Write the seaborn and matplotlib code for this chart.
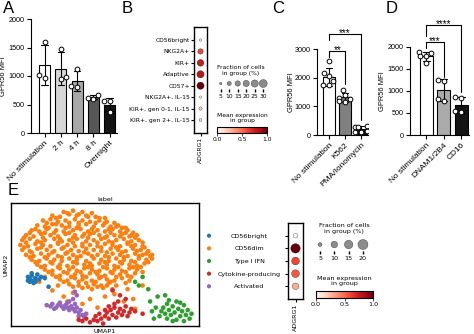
import numpy as np
import pandas as pd
import matplotlib
matplotlib.use('Agg')
import matplotlib.pyplot as plt
import seaborn as sns
from matplotlib.colors import Normalize
from matplotlib.cm import ScalarMappable

# ---------------- data ----------------
a_conditions = ['No stimulation', '2 h', '4 h', '8 h', 'Overnight']
a_values = [[1600, 970, 1020], [1470, 940, 980], [1120, 800, 830], [660, 620, 590], [560, 560, 370]]
a_colors = ['#ffffff', '#d6d6d6', '#a8a8a8', '#575757', '#141414']

c_conditions = ['No stimulation', 'K562', 'PMA/Ionomycin']
c_values = [[2600, 2150, 2050, 1900, 1750, 1750], [1580, 1400, 1300, 1250, 1180, 1150], [300, 290, 280, 150, 120, 100]]
c_colors = ['#ffffff', '#808080', '#141414']
c_brackets = [(0, 1, '**', 2920, 2720, 1780), (0, 2, '***', 3510, 3330, 520)]

d_conditions = ['No stimulation', 'DNAM1/2B4', 'CD16']
d_values = [[1870, 1850, 1800, 1780, 1620], [1250, 1230, 820, 780], [850, 830, 540, 510]]
d_colors = ['#ffffff', '#ababab', '#141414']
d_brackets = [(0, 1, '***', 2113, 1970, 1307), (0, 2, '****', 2490, 2242, 974)]

gene = 'ADGRG1'
b_groups = ['CD56bright', 'NKG2A+', 'KIR+', 'Adaptive', 'CD57+', 'NKG2A+, IL-15',
            'KIR+, gen 0-1, IL-15', 'KIR+, gen 2+, IL-15']
b_fraction = [4, 15, 22, 25, 25, 3.5, 7, 6]
b_expression = [0.1, 0.6, 0.75, 0.8, 1.0, 0.05, 0.2, 0.15]
b_legend_sizes = [5, 10, 15, 20, 25, 30]

e_groups = ['CD56bright', 'CD56dim', 'Type I IFN', 'Cytokine-producing', 'Activated']
e_fraction = [6, 18, 13, 13, 10]
e_expression = [0.0, 1.0, 0.6, 0.55, 0.3]
e_legend_sizes = [5, 10, 15, 20]
e_colors = ['#1f77b4', '#ff7f0e', '#2ca02c', '#d62728', '#9467bd']

umap_cd56dim = """28,93 33,94 38,93 43,92
22,90 26,89 31,91 35,90 40,90 45,89 50,88
17,86 21,87 25,85 29,86 34,87 38,86 42,85 47,86 51,85 55,84
14,82 18,81 22,83 27,82 31,81 36,82 40,83 44,81 49,82 53,81 57,82 61,80
11,78 15,77 19,79 24,78 28,77 33,78 37,79 41,77 46,78 50,77 54,79 58,77 62,78 65,76
8,74 12,73 16,75 21,74 25,73 29,75 34,74 38,73 42,75 47,74 51,73 55,74 59,75 63,73 67,74
6,70 10,71 14,69 18,70 23,71 27,69 31,70 35,71 40,69 44,70 48,71 52,69 56,70 60,71 64,69 68,70
5,66 9,65 13,67 17,66 21,65 25,67 30,66 34,65 38,67 42,66 46,65 50,67 54,66 58,65 62,67 66,66 70,65
6,62 10,61 14,63 19,62 23,61 27,63 32,62 36,61 40,63 44,62 48,61 53,63 57,62 61,61 65,63 69,62 73,61
8,58 12,57 16,59 20,58 25,57 29,59 33,58 37,57 41,59 46,58 50,57 54,59 58,58 62,57 66,59 70,58 74,57
11,54 15,53 19,55 23,54 27,53 31,55 35,54 40,53 44,55 48,54 52,53 56,55 60,54 64,53 68,55 72,54 75,55
14,50 18,49 22,51 26,50 30,49 35,51 39,50 43,49 47,51 51,50 55,49 59,51 63,50 67,49 71,51
18,46 22,45 26,47 31,46 35,45 39,47 43,46 47,45 51,47 55,46 59,45 63,47 67,46 70,44
22,42 26,41 30,43 34,42 38,41 42,43 46,42 50,41 54,43 58,42 62,41 66,43
26,38 30,37 34,39 38,38 43,37 47,39 51,38 55,37 59,39 63,37
31,34 36,33 40,35 44,34 48,33 52,35 56,33
38,31 43,30 49,31 54,30
22,29 28,24 33,27 42,22 50,24 55,26 60,20 65,22 38,18 46,15 62,30 70,33 30,20 25,33 18,40 15,36 66,14
30,92 36,91 41,89 47,88 24,88 19,84 24,83 31,84 36,84 45,84 50,84 56,81 13,79 20,80 29,80 35,80 43,79 52,79 59,80
10,76 18,76 23,76 31,76 39,75 44,76 53,76 61,76 64,74 7,72 17,72 26,71 33,72 41,72 50,72 58,73 66,72 70,68
8,68 16,68 25,68 33,68 46,68 54,68 62,68 7,64 16,64 28,64 38,65 48,64 56,64 64,65 71,64 11,60 22,60 30,60 39,60
51,60 59,60 67,61 72,59 10,56 18,56 27,56 35,56 43,57 52,56 60,56 68,57 75,58 13,52 21,52 33,52 42,51 50,52 58,52
66,52 73,52 16,48 25,48 33,48 41,48 49,48 57,48 65,48 69,48 20,44 28,44 37,44 45,44 53,44 61,44 24,40 32,40 40,40
48,40 56,40 64,40 28,36 36,36 45,36 53,36 61,35 33,32 41,32 46,32 51,33"""
umap_cd56bright = "9,40 10,38 11,41 12,37 13,39 14,42 12,35 10,36 15,38 16,40 11,43 13,36 9,37 20,32 18,39"
umap_activated = ("19,17 21,16 22,18 24,15 25,17 27,16 28,14 29,17 30,15 31,13 32,16 33,14 34,12 35,15 "
                  "36,11 37,13 38,9 36,8 34,18 33,22 35,25 34,28 30,19 26,19 39,7 40,10 23,14 31,20")
umap_cytokine = ("36,5 38,4 40,6 42,3 44,5 46,4 48,6 50,8 51,11 52,6 53,13 54,9 55,15 56,7 57,11 58,14 "
                 "59,9 60,12 61,16 62,8 63,11 55,18 57,20 52,16 50,13 64,14 45,8 58,25 54,29 66,12 61,22 "
                 "49,2 47,10 70,10")
umap_ifn = ("79,8 80,12 81,15 82,10 83,6 83,18 84,13 85,9 86,16 87,11 88,5 88,20 89,14 90,8 91,12 92,17 "
            "93,9 94,13 95,6 86,4 84,21 90,19 75,12 76,6 77,15 74,20 78,24 66,36 70,40 68,33 73,30 92,4 "
            "96,10 82,25")

# ---------------- setup ----------------
sns.set_style('ticks', {'axes.edgecolor': 'black', 'xtick.color': 'black', 'ytick.color': 'black',
                        'text.color': 'black', 'axes.labelcolor': 'black'})
plt.rcParams['font.family'] = ['Liberation Sans', 'DejaVu Sans']
W, H = 474, 334
fig = plt.figure(figsize=(W / 100, H / 100), dpi=100)


def rect(x0, y0, x1, y1):
    return [x0 / W, 1 - y1 / H, (x1 - x0) / W, (y1 - y0) / H]


def ftext(x, y, s, **kw):
    fig.text(x / W, 1 - y / H, s, **kw)


PRISM = ['Liberation Sans', 'DejaVu Sans']
SC = ['DejaVu Sans']


def bar_panel(ax, conds, vals, colors, width, ylim, top, yticks, xlim, ylab_x, brackets=()):
    df = pd.DataFrame([(c, v) for c, vs in zip(conds, vals) for v in vs], columns=['cond', 'val'])
    sns.barplot(data=df, x='cond', y='val', hue='cond', order=conds, hue_order=conds, palette=colors,
                errorbar='sd', capsize=0.4, width=width, edgecolor='black', linewidth=0.8,
                err_kws={'color': 'black', 'linewidth': 0.8}, legend=False, ax=ax)
    sns.swarmplot(data=df, x='cond', y='val', order=conds, color='white', edgecolor='black',
                  linewidth=0.7, size=3.4, ax=ax, zorder=5)
    ax.set_ylim(*ylim)
    ax.set_xlim(*xlim)
    ax.spines[['top', 'right']].set_visible(False)
    ax.spines['left'].set_bounds(0, top)
    ax.spines['left'].set_linewidth(0.8)
    ax.spines['bottom'].set_linewidth(0.8)
    ax.set_yticks(yticks)
    ax.set_yticklabels([str(t) for t in yticks], fontsize=5.2, fontfamily=PRISM)
    ax.set_xticks(range(len(conds)))
    ax.set_xticklabels(conds, rotation=45, ha='right', rotation_mode='anchor', fontsize=6, fontfamily=PRISM)
    ax.tick_params(length=3, width=0.8, pad=1.5)
    ax.set_xlabel('')
    ax.set_ylabel('GPR56 MFI', fontsize=5.4, fontfamily=PRISM)
    pos = ax.get_position()
    ax.yaxis.set_label_coords((ylab_x / W - pos.x0) / pos.width, (top / ylim[1]) / 2)
    for i, j, lab, y, lb, rb in brackets:
        ax.plot([i, i, j, j], [lb, y, y, rb], color='black', lw=0.8, clip_on=False)
        ax.annotate(lab, xy=((i + j) / 2, y), xytext=(0, -1.5), textcoords='offset points',
                    ha='center', va='baseline', fontsize=7, fontfamily=PRISM)


def dot_panel(ax, groups, frac, expr, sizes, norm, fs, pad_rows):
    n = len(groups)
    df = pd.DataFrame({'pos': np.arange(n), 'x': 0.0, 'frac': frac, 'expr': expr})
    sns.scatterplot(data=df, x='x', y='pos', size='frac', sizes=sizes, size_norm=norm, hue='expr',
                    palette='Reds', hue_norm=(0, 1), edgecolor='black', linewidth=0.2, legend=False, ax=ax)
    ax.set_xlim(-0.5, 0.5)
    ax.set_ylim(n - 1 + pad_rows, -pad_rows)
    ax.set_yticks(range(n))
    ax.set_yticklabels(groups, fontsize=fs, fontfamily=SC)
    ax.set_xticks([0])
    ax.set_xticklabels([gene], rotation=90, fontsize=fs, fontfamily=SC)
    ax.set_xlabel('')
    ax.set_ylabel('')
    ax.tick_params(length=2, width=0.8, pad=1)
    for sp in ax.spines.values():
        sp.set_linewidth(1.0)


def size_legend(ax, vals, sizes, norm, fs):
    df = pd.DataFrame({'frac': vals, 'y': 0.0})
    sns.scatterplot(data=df, x='frac', y='y', size='frac', sizes=sizes, size_norm=norm, color='#8c8c8c',
                    edgecolor='black', linewidth=0.2, legend=False, ax=ax)
    ax.set_ylim(-1, 1)
    ax.set_xticks(vals)
    ax.set_xticklabels([str(v) for v in vals], fontsize=fs, fontfamily=SC)
    ax.set_yticks([])
    ax.set_xlabel('')
    ax.set_ylabel('')
    for sp in ax.spines.values():
        sp.set_visible(False)
    ax.tick_params(axis='x', length=2.5, width=1.0, pad=1)


def colorbar(cax, fs):
    cb = fig.colorbar(ScalarMappable(norm=Normalize(0, 1), cmap='Reds'), cax=cax, orientation='horizontal')
    cb.set_ticks([0, 0.5, 1.0])
    cb.set_ticklabels(['0.0', '0.5', '1.0'])
    cax.tick_params(labelsize=fs, length=2, width=0.5, pad=1)
    for t in cax.get_xticklabels():
        t.set_fontfamily(SC)
    cb.outline.set_linewidth(0.8)


# ---------------- panel A ----------------
axA = fig.add_axes(rect(30.7, 19, 117, 133))
bar_panel(axA, a_conditions, a_values, a_colors, 0.68, (0, 2000), 2000, [0, 500, 1000, 1500, 2000],
          (-0.85, 4.45), 7)

# ---------------- panel C ----------------
axC = fig.add_axes(rect(316.7, 29, 368, 135))
bar_panel(axC, c_conditions, c_values, c_colors, 0.76, (0, 3700), 3000, [0, 1000, 2000, 3000],
          (-0.8, 2.45), 295, c_brackets)

# ---------------- panel D ----------------
axD = fig.add_axes(rect(410, 18, 469, 135))
bar_panel(axD, d_conditions, d_values, d_colors, 0.74, (0, 2650), 2000, [0, 500, 1000, 1500, 2000],
          (-0.93, 2.45), 386, d_brackets)

# ---------------- panel B ----------------
axB = fig.add_axes(rect(194, 27, 207, 133))
dot_panel(axB, b_groups, b_fraction, b_expression, (3, 33), (5, 30), 4.3, 1.14)
axBl = fig.add_axes(rect(216, 78, 268, 89))
axBl.set_xlim(2.24, 32.8)
size_legend(axBl, b_legend_sizes, (3, 33), (5, 30), 4.3)
ftext(241, 70.5, 'Fraction of cells\nin group (%)', ha='center', va='center', fontsize=4.3,
      fontfamily=SC, linespacing=1.1)
axBc = fig.add_axes(rect(217.3, 127, 267.3, 133))
colorbar(axBc, 4.3)
ftext(242, 118, 'Mean expression\nin group', ha='center', va='center', fontsize=4.3,
      fontfamily=SC, linespacing=1.1)

# ---------------- panel E : UMAP ----------------
def parse(s):
    return [tuple(map(float, p.split(','))) for p in s.split()]


umap_sets = [(e_groups[1], umap_cd56dim), (e_groups[0], umap_cd56bright), (e_groups[4], umap_activated),
             (e_groups[3], umap_cytokine), (e_groups[2], umap_ifn)]
rows = []
for lab, s in umap_sets:
    for x, y in parse(s):
        rows.append((lab, x, y))
dfU = pd.DataFrame(rows, columns=['label', 'UMAP1', 'UMAP2'])
axE = fig.add_axes(rect(11, 203.3, 199, 326))
sns.scatterplot(data=dfU, x='UMAP1', y='UMAP2', hue='label', hue_order=e_groups,
                palette=e_colors, s=11, linewidth=0, legend=False, ax=axE)
axE.set_xlim(0, 100)
axE.set_ylim(0, 100)
axE.set_xticks([])
axE.set_yticks([])
axE.set_title('label', fontsize=4.6, fontfamily=SC, pad=2)
axE.set_xlabel('UMAP1', fontsize=4.6, fontfamily=SC, labelpad=2)
axE.set_ylabel('UMAP2', fontsize=4.6, fontfamily=SC, labelpad=2)
for sp in axE.spines.values():
    sp.set_linewidth(1.0)

# ---------------- panel E : dotplot ----------------
axEd = fig.add_axes(rect(288.3, 222.7, 302.7, 299.3))
dot_panel(axEd, e_groups, e_fraction, e_expression, (8, 52), (5, 20), 4.6, 1.03)
for t in axEd.get_yticklabels():
    t.set_horizontalalignment('center')
axEd.tick_params(axis='y', pad=26)

axEm = fig.add_axes(rect(205, 222.7, 213, 299.3))
dfM = pd.DataFrame({'label': e_groups, 'pos': np.arange(len(e_groups)), 'x': 0.0})
sns.scatterplot(data=dfM, x='x', y='pos', hue='label', hue_order=e_groups, palette=e_colors,
                s=9, linewidth=0, legend=False, ax=axEm)
axEm.set_xlim(-1, 1)
axEm.set_ylim(len(e_groups) - 1 + 1.03, -1.03)
axEm.axis('off')

axEl = fig.add_axes(rect(314, 238, 375, 251))
axEl.set_xlim(2.9, 24.2)
size_legend(axEl, e_legend_sizes, (8, 52), (5, 20), 4.6)
ftext(344, 228.5, 'Fraction of cells\nin group (%)', ha='center', va='center', fontsize=4.6,
      fontfamily=SC, linespacing=1.1)
axEc = fig.add_axes(rect(316, 291, 373, 298.3))
colorbar(axEc, 4.6)
ftext(344, 281, 'Mean expression\nin group', ha='center', va='center', fontsize=4.6,
      fontfamily=SC, linespacing=1.1)

# ---------------- panel letters ----------------
for lab, x, y in [('A', 3, 13.3), ('B', 122, 13.3), ('C', 272, 12.7), ('D', 386, 12.7), ('E', 7.5, 195)]:
    ftext(x, y, lab, fontsize=12, fontfamily=PRISM, va='baseline', ha='left')

fig.savefig('out.png', dpi=100)
